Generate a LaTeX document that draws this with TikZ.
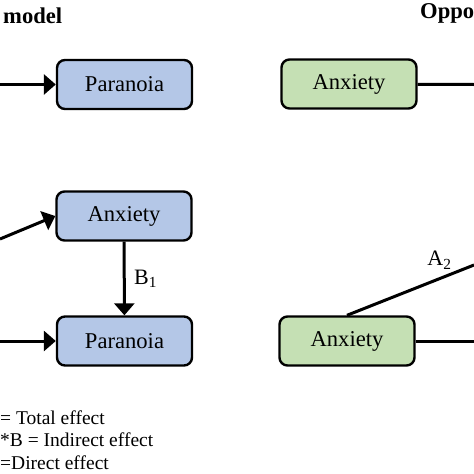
\documentclass[tikz,border=0pt]{standalone}
\usepackage{fontspec}
\setmainfont{Liberation Serif}
\usetikzlibrary{arrows.meta,positioning}
\definecolor{medblue}{RGB}{180,199,231}
\definecolor{medgreen}{RGB}{197,224,180}
\tikzset{
  var/.style={draw, line width=2.4pt, rounded corners=8pt, inner sep=0pt,
    minimum width=135pt, minimum height=49pt,
    font=\fontsize{22.6}{26}\selectfont},
  bluevar/.style={var, fill=medblue},
  greenvar/.style={var, fill=medgreen},
  arr/.style={line width=3pt, -{Triangle[length=12pt,width=20pt]}},
  ln/.style={line width=3pt},
  lbl/.style={font=\fontsize{22}{26}\selectfont},
  legtxt/.style={anchor=base west, inner sep=0pt, font=\fontsize{19.5}{23}\selectfont}
}
\begin{document}
\begin{tikzpicture}[x=1pt, y=-1pt]
  \useasboundingbox (0,0) rectangle (474,474);

  %% titles
  \node[anchor=base west, inner sep=0pt, font=\fontsize{22.6}{26}\selectfont\bfseries]
    (ttlL) at (3,23) {model};
  \node[anchor=base west, inner sep=0pt, font=\fontsize{22.6}{26}\selectfont\bfseries]
    (ttlR) at (420,18) {Oppo};

  %% boxes
  \node[bluevar] (par1) at (124.5,84.5) {Paranoia};
  \node[greenvar] (anx1) at (349,84) {Anxiety};
  \node[bluevar] (anx2) at (124,216) {Anxiety};
  \node[bluevar] (par2) at (124.5,341) {Paranoia};
  \node[greenvar] (anx3) at (347,341) {Anxiety};

  %% free ends
  \coordinate (inP) at (0,84.5);
  \coordinate (outA) at (474,84.5);
  \coordinate (inA) at (0,239);
  \coordinate (inP2) at (0,341);
  \coordinate (outA2) at (474,341);
  \coordinate (outA3) at (474,265);

  \draw[arr] (inP) -- (par1);
  \draw[ln] (anx1) -- (outA);
  \draw[arr] (inA) -- (anx2.west);
  \draw[arr] (anx2) -- node[lbl, right=5pt] {B\textsubscript{1}} (par2); %% B path
  \draw[arr] (inP2) -- (par2);
  \draw[ln] (anx3) -- (outA2);
  \draw[ln] (anx3.north) -- node[lbl, pos=0.85, above left, inner sep=2pt] {A\textsubscript{2}} (outA3);

  %% legend
  \node[legtxt] (leg1) at (0,424) {= Total effect};
  \node[legtxt] (leg2) at (0,446) {*B = Indirect effect};
  \node[legtxt] (leg3) at (0,469) {=Direct effect};
\end{tikzpicture}
\end{document}
